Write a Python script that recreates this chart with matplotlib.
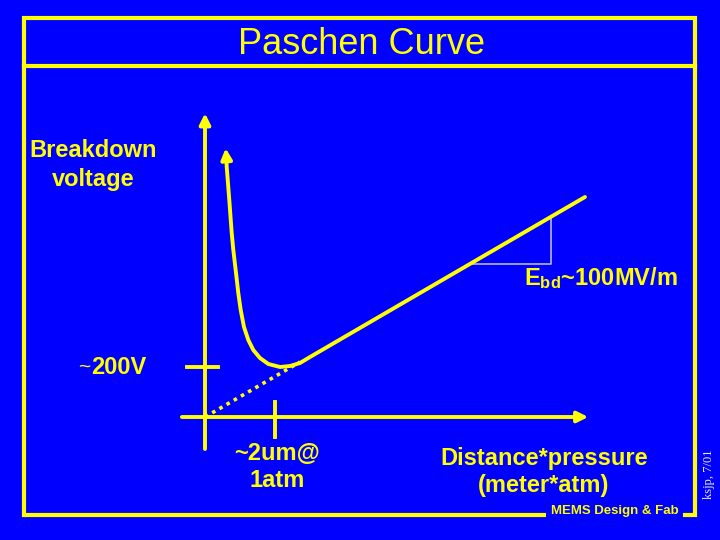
import matplotlib
matplotlib.use('Agg')
import matplotlib.pyplot as plt
from matplotlib import font_manager

# Paschen curve, sketch units: x = gap at 1 atm (um), y = breakdown voltage (V)
pd_um = [0.61, 0.62, 0.694, 0.763, 0.809, 0.886, 0.951, 1.02, 1.114, 1.237,
         1.38, 1.571, 1.809, 2.143, 2.429, 2.714, 3.0, 10.857]
v_bd = [1040, 1001, 868, 736, 668, 576, 496, 428, 360, 308,
        268, 236, 212, 200, 204, 216, 240, 880]

# asymptote back to origin
asym_x = [0.0, 2.714]
asym_y = [0.0, 220]

# slope triangle (E_bd)
tri_x = [7.556, 9.886, 9.886]
tri_y = [612, 612, 801]

x_tick = 2.0     # ~2um@1atm
y_tick = 200     # ~200V

title = 'Paschen Curve'
ylabel = 'Breakdown\nvoltage'
xlabel = 'Distance*pressure\n(meter*atm)'

BLUE = '#0000ff'
YEL = '#ffff00'

plt.rcParams['font.family'] = ['Liberation Sans', 'DejaVu Sans']
plt.rcParams['mathtext.fontset'] = 'custom'
plt.rcParams['mathtext.rm'] = 'Liberation Sans:bold'
plt.rcParams['mathtext.it'] = 'Liberation Sans:bold'

names = {f.name for f in font_manager.fontManager.ttflist}
narrow = 'Liberation Sans Narrow' if 'Liberation Sans Narrow' in names else 'Liberation Sans'
narrow_size = 11 if narrow == 'Liberation Sans Narrow' else 9.5

fig = plt.figure(figsize=(7.2, 5.4), dpi=100, facecolor=BLUE)

# slide background in pixel coords
bg = fig.add_axes([0, 0, 1, 1])
bg.set_xlim(0, 720)
bg.set_ylim(540, 0)
bg.axis('off')
bg.set_facecolor(BLUE)

fw = 3.0
bg.plot([24, 24, 695, 695, 685], [515, 18, 18, 515, 515], color=YEL, lw=fw,
        solid_joinstyle='miter')
bg.plot([24, 546], [515, 515], color=YEL, lw=fw, solid_capstyle='butt')
bg.plot([24, 695], [66, 66], color=YEL, lw=fw)

bg.text(361, 44, title, color=YEL, fontsize=26, ha='center', va='center')
bg.text(93, 165, ylabel, color=YEL, fontsize=17, fontweight='bold',
        ha='center', va='center', linespacing=1.3)
bg.text(84, 367, '~', color=YEL, fontsize=15,
        ha='center', va='center')
bg.text(91, 368, '200V', color=YEL, fontsize=17, fontweight='bold',
        ha='left', va='center')
bg.text(277, 467, '~2um@\n1atm', color=YEL, fontsize=17, fontweight='bold',
        ha='center', va='center', linespacing=1.25)
bg.text(544, 472, xlabel, color=YEL, fontsize=17, fontweight='bold',
        ha='center', va='center', linespacing=1.25)
bg.text(601, 278, r'E$_\mathrm{bd}$~100MV/m', color=YEL, fontsize=17,
        fontweight='bold', ha='center', va='center')
bg.text(615, 511, 'MEMS Design & Fab', color=YEL, family=[narrow, 'DejaVu Sans'],
        fontsize=narrow_size, fontweight='bold', ha='center', va='center')
bg.text(709, 474, 'ksjp, 7/01', color='#f0f0d0', family=['Liberation Serif', 'DejaVu Serif'],
        fontsize=9, rotation=90, ha='center', va='center')

# data axes: px = 205 + 35*x, py = 417 - y/4
ax = fig.add_axes([170 / 720, (540 - 454.5) / 540, 455 / 720, 362.5 / 540])
ax.set_xlim(-1, 12)
ax.set_ylim(-150, 1300)
ax.axis('off')
ax.patch.set_alpha(0)

lw = 2.8
arrow = dict(arrowstyle='-|>', color=YEL, lw=lw, mutation_scale=16,
             shrinkA=0, shrinkB=0)
ax.annotate('', xy=(0, 1215), xytext=(0, -128), arrowprops=arrow)
ax.annotate('', xy=(10.95, 0), xytext=(-0.66, 0), arrowprops=arrow)

ax.plot([-0.51, 0.37], [y_tick, y_tick], color=YEL, lw=lw)
ax.plot([x_tick, x_tick], [60, -80], color=YEL, lw=lw)

ax.plot(tri_x + [tri_x[0]], tri_y + [tri_y[0]], color='#a8a8d8', lw=1.3)

ax.plot(asym_x, asym_y, color=YEL, lw=2.6, linestyle=(0, (1, 1.3)))

ax.plot(pd_um, v_bd, color=YEL, lw=lw, solid_capstyle='round',
        solid_joinstyle='round')
ax.annotate('', xy=(0.59, 1075), xytext=(pd_um[0], v_bd[0]), arrowprops=arrow)

fig.savefig('out.png', dpi=100, facecolor=BLUE)
